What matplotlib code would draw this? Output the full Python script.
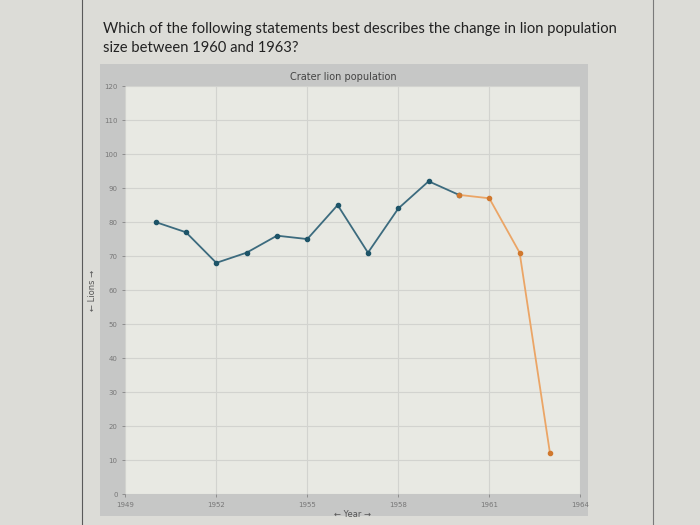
import matplotlib.pyplot as plt
from matplotlib.patches import Rectangle
from matplotlib.lines import Line2D

# Data
anos_azul = [1950, 1951, 1952, 1953, 1954, 1955, 1956, 1957, 1958, 1959, 1960]
leoes_azul = [80, 77, 68, 71, 76, 75, 85, 71, 84, 92, 88]
anos_laranja = [1960, 1961, 1962, 1963]
leoes_laranja = [88, 87, 71, 12]
ticks_x = [1949, 1952, 1955, 1958, 1961, 1964]
ticks_y = list(range(0, 121, 10))

pergunta = ("Which of the following statements best describes the change in lion population\n"
            "size between 1960 and 1963?")

fig = plt.figure(figsize=(7, 5.25), dpi=100)
fig.patch.set_facecolor('#dcdcd7')

# Page borders in the photo
fig.add_artist(Line2D([0.117, 0.117], [0, 1], color='#5a5a5a', lw=0.8))
fig.add_artist(Line2D([0.933, 0.933], [0, 1], color='#7a7a7a', lw=0.8))

# Grey chart frame
fig.add_artist(Rectangle((0.143, 0.017), 0.697, 0.861, facecolor='#c6c7c6',
                         edgecolor='none', zorder=0))

fig.text(0.147, 0.958, pergunta, fontsize=10.6, family='Lato', color='#222222',
         va='top', ha='left', linespacing=1.45)

ax = fig.add_axes([0.179, 0.059, 0.65, 0.777])
ax.set_facecolor('#e8e9e3')

ax.plot(anos_azul, leoes_azul, color='#3c6b7e', lw=1.3, marker='o',
        markersize=3, markerfacecolor='#1d5468', markeredgecolor='#1d5468')
ax.plot(anos_laranja, leoes_laranja, color='#eba566', lw=1.3, marker='o',
        markersize=3, markerfacecolor='#d0782e', markeredgecolor='#d0782e')

ax.set_xlim(1949, 1964)
ax.set_ylim(0, 120)
ax.set_xticks(ticks_x)
ax.set_yticks(ticks_y)
ax.tick_params(labelsize=5, colors='#777777', length=2, width=0.5)
ax.grid(True, color='#d2d3cf', lw=0.8)
ax.set_axisbelow(True)
for s in ax.spines.values():
    s.set_visible(False)

ax.set_xlabel('\u2190 Year \u2192', fontsize=6, color='#555555', labelpad=2)
ax.set_ylabel('\u2190 Lions \u2192', fontsize=6, color='#555555', labelpad=5)
fig.text(0.49, 0.853, 'Crater lion population', fontsize=7, color='#444444',
         ha='center', va='center')

fig.savefig('out.png', dpi=100, facecolor=fig.get_facecolor())
